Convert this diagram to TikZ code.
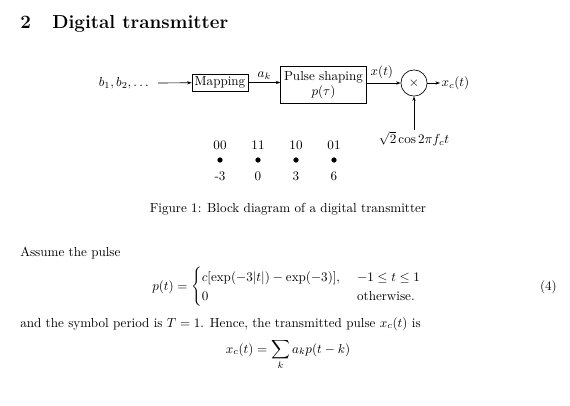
\documentclass[tikz,border=0pt]{standalone}
\usepackage{amsmath,amssymb}
\usetikzlibrary{arrows.meta}
\begin{document}
\begin{tikzpicture}[x=0.764pt,y=-0.764pt,
  blk/.style={draw,line width=0.6pt,inner sep=2pt},
  mult/.style={draw,circle,line width=0.5pt,minimum size=20pt,inner sep=0pt},
  conn/.style={line width=0.5pt,-{Stealth[length=3.5pt,width=2.5pt]}},
  txt/.style={anchor=base west,inner sep=0pt},
  dot/.style={circle,fill=black,inner sep=0pt,minimum size=4pt}]
\useasboundingbox (0,0) rectangle (570,406);
% heading
\node[txt] (secnum) at (20,28) {\Large\bfseries 2};
\node[txt] (sectitle) at (52,28) {\Large\bfseries Digital transmitter};
% diagram
\node[anchor=east,inner sep=0pt] (bin) at (149,83) {$b_1,b_2,\ldots$};
\coordinate (binend) at (158,83);
\node[blk] (map) at (220,82.5) {Mapping};
\node[blk,align=center,inner xsep=2.5pt,inner ysep=3.5pt] (ps) at (323.5,85) {Pulse shaping\\$p(\tau)$};
\node[mult] (mul) at (414,83) {$\times$};
\node[anchor=west,inner sep=1pt] (xc) at (440,83) {$x_c(t)$};
\node[inner sep=1pt] (osc) at (414,139) {$\sqrt{2}\cos 2\pi f_c t$};
\draw[conn] (binend) -- (map);
\draw[conn] (map.east) -- node[above=2pt,inner sep=0pt] (aklab) {$a_k$} (map.east -| ps.west);
\draw[conn] (ps.east |- mul) -- node[pos=0.45,above=3pt,inner sep=0pt] (xlab) {$x(t)$} (mul);
\draw[conn] (mul) -- (xc);
\draw[conn] (osc) -- (mul);
% constellation
\foreach \x/\b/\v [count=\i] in {220/00/-3,258/11/0,296/10/3,334/01/6}{
  \node (bits\i) at (\x,145) {\b};
  \node[dot] (pt\i) at (\x,160) {};
  \node (val\i) at (\x,176) {\v};
}
% caption
\node (cap) at (288,209) {Figure 1: Block diagram of a digital transmitter};
% text
\node[txt] (assume) at (20,256) {Assume the pulse};
\node[anchor=west,inner sep=0pt] (eq) at (152,287) {$\displaystyle p(t)=\begin{cases} c[\exp(-3|t|)-\exp(-3)], & \hspace{3pt}-1\le t\le 1\\ 0 & \hspace{3pt}\text{otherwise.}\end{cases}$};
\node[anchor=east,inner sep=0pt] (eqnum) at (557,287) {(4)};
\node[txt] (andthe) at (20,327) {and the symbol period is $T=1$. Hence, the transmitted pulse $x_c(t)$ is};
\node[anchor=base,inner sep=0pt] (sum) at (288,353) {$\displaystyle x_c(t)=\sum_k a_k p(t-k)$};
\end{tikzpicture}
\end{document}
